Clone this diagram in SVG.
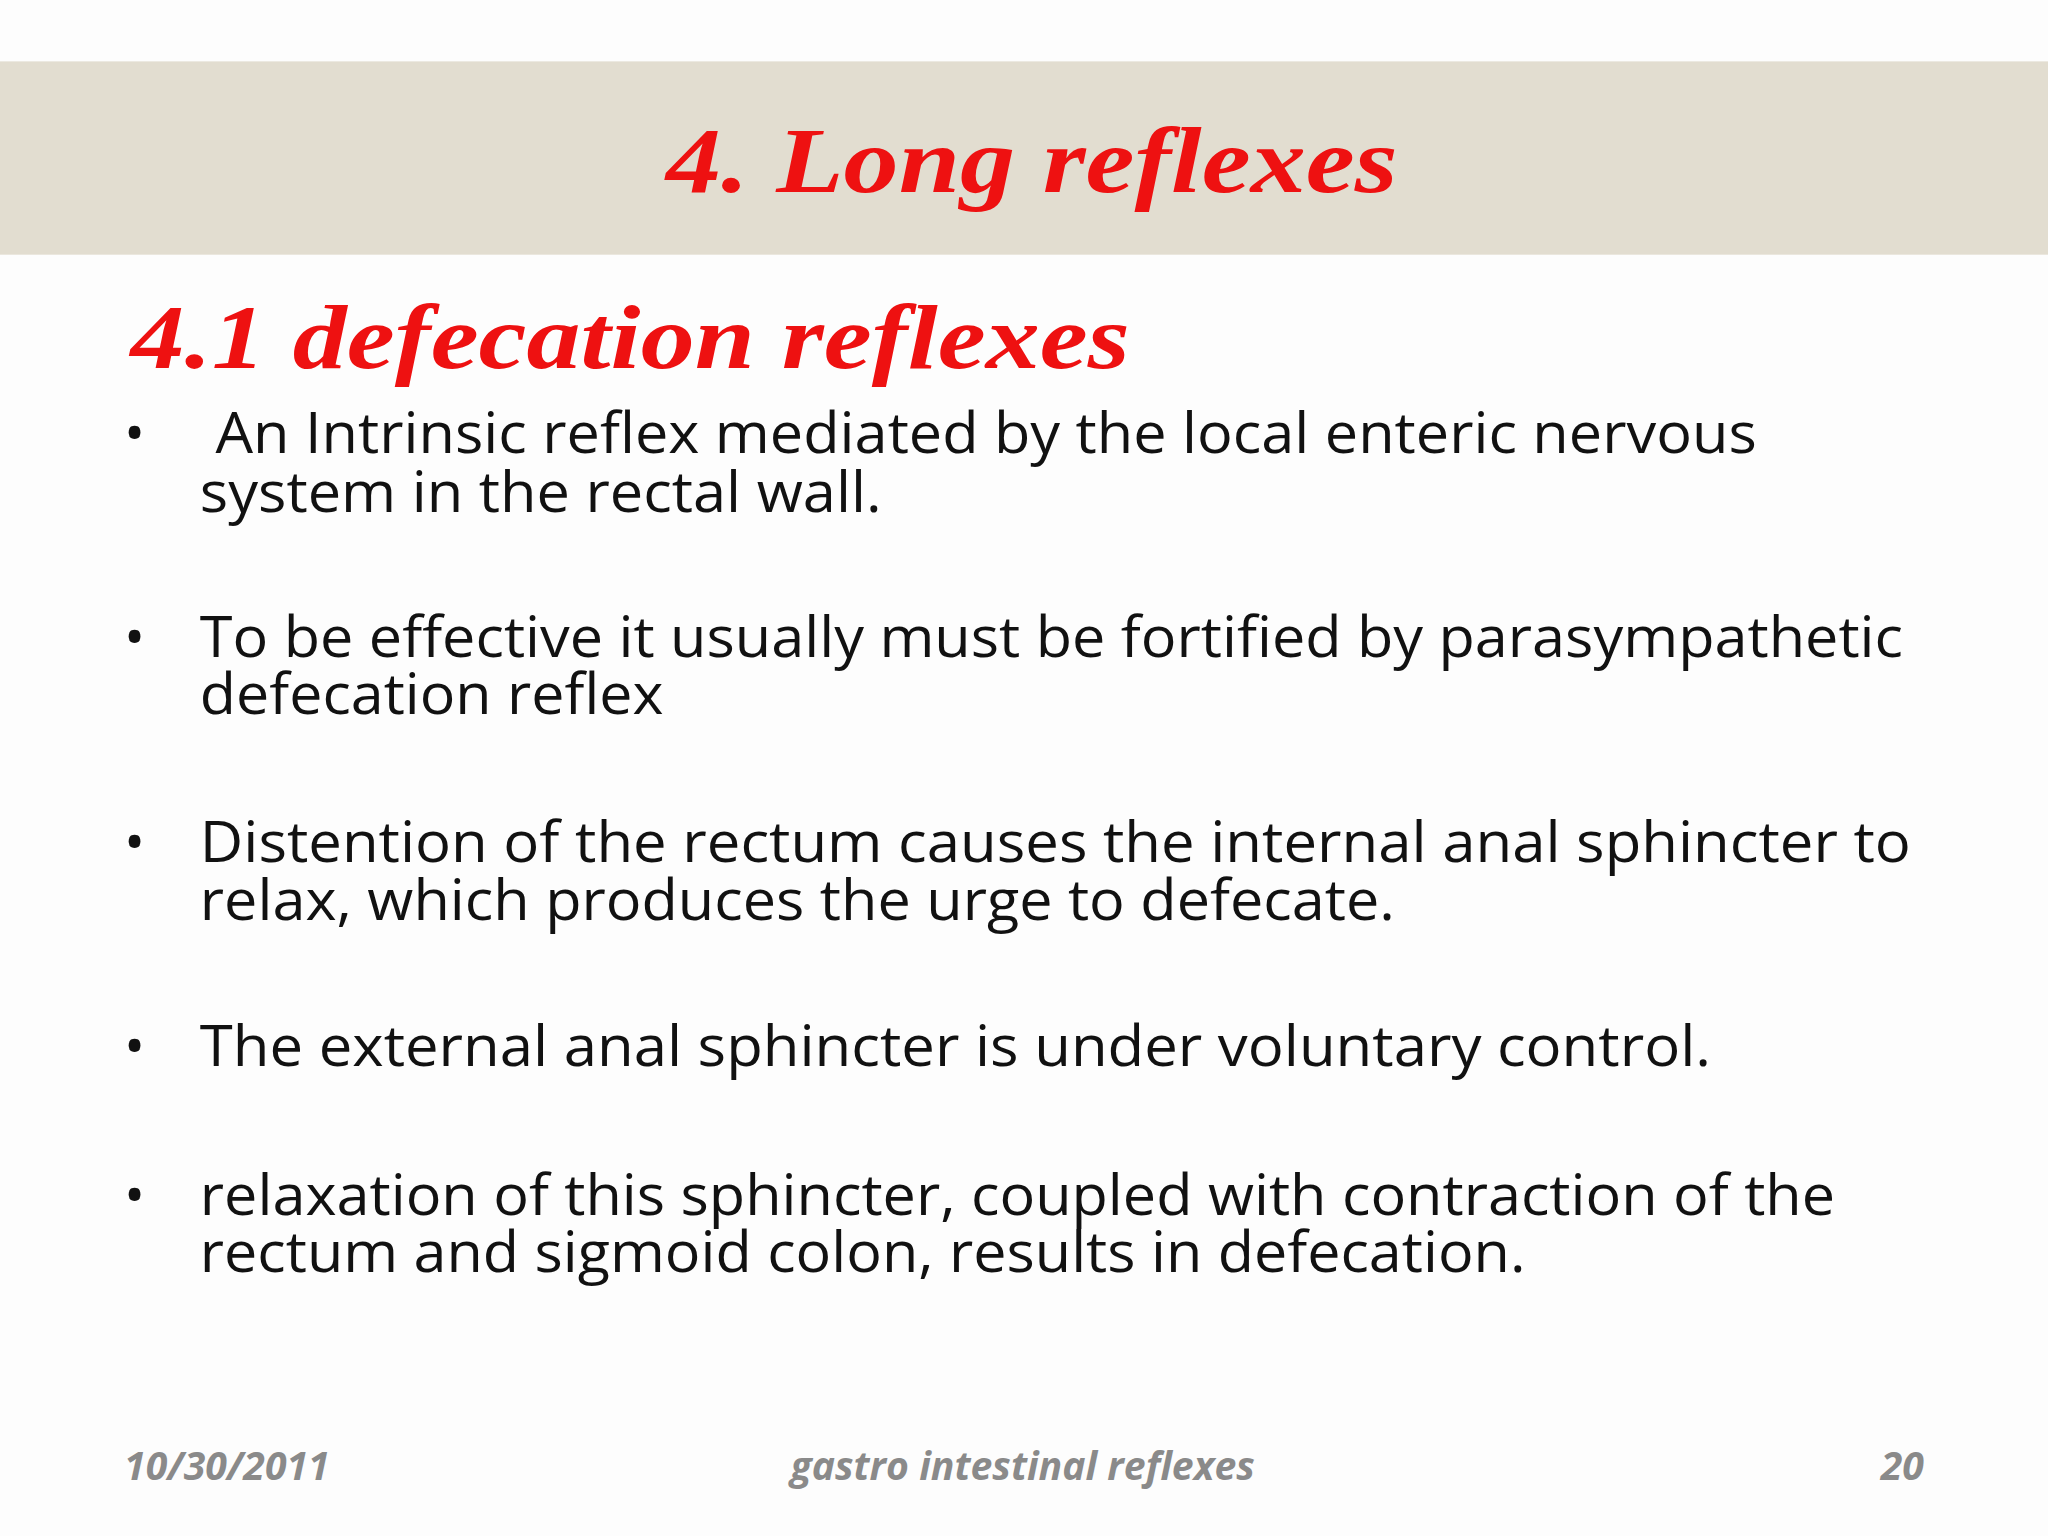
<svg xmlns="http://www.w3.org/2000/svg" width="2048" height="1536" viewBox="0 0 2048 1536">
<style>
.t{font-family:"Liberation Serif",serif;font-style:italic;font-weight:bold;fill:#ee1111}
.b{font-family:"Open Sans","Noto Sans",sans-serif;font-size:43px;fill:#111}
.f{font-family:"Open Sans","Noto Sans",sans-serif;font-size:30px;font-weight:bold;font-style:italic;fill:#8a8a8a}
</style>
<rect width="2048" height="1536" fill="#fdfdfd"/>
<g transform="scale(1.30612)">
<g id="banner"><rect x="0" y="47" width="1568" height="148" fill="#e2ddd0"/></g>
<g id="title"><text class="t" x="510" y="147" font-size="72" textLength="560" lengthAdjust="spacingAndGlyphs">4. Long  reflexes</text></g>
<g id="subtitle"><text class="t" x="100" y="282" font-size="70" textLength="765" lengthAdjust="spacingAndGlyphs">4.1 defecation reflexes</text></g>
<g id="bullets">
<text class="b" x="95" y="347">•</text>
<text class="b" x="165" y="347" textLength="1180" lengthAdjust="spacingAndGlyphs">An Intrinsic reflex mediated by the local enteric nervous</text>
<text class="b" x="153" y="392" textLength="522" lengthAdjust="spacingAndGlyphs">system in the rectal wall.</text>
<text class="b" x="95" y="503">•</text>
<text class="b" x="153" y="503" textLength="1304" lengthAdjust="spacingAndGlyphs">To be effective it usually must be fortified by parasympathetic</text>
<text class="b" x="153" y="547" textLength="355" lengthAdjust="spacingAndGlyphs">defecation reflex</text>
<text class="b" x="95" y="660">•</text>
<text class="b" x="153" y="660" textLength="1310" lengthAdjust="spacingAndGlyphs">Distention of the rectum causes the internal anal sphincter  to</text>
<text class="b" x="153" y="704" textLength="915" lengthAdjust="spacingAndGlyphs">relax, which produces the urge to defecate.</text>
<text class="b" x="95" y="816">•</text>
<text class="b" x="153" y="816" textLength="1157" lengthAdjust="spacingAndGlyphs">The external anal sphincter  is under voluntary control.</text>
<text class="b" x="95" y="930">•</text>
<text class="b" x="153" y="930" textLength="1252" lengthAdjust="spacingAndGlyphs">relaxation of this sphincter, coupled with contraction of the</text>
<text class="b" x="153" y="974" textLength="1015" lengthAdjust="spacingAndGlyphs">rectum and sigmoid colon, results in defecation.</text>
</g>
<g id="footer">
<text class="f" x="95" y="1133">10/30/2011</text>
<text class="f" x="783" y="1133" text-anchor="middle">gastro intestinal reflexes</text>
<text class="f" x="1473" y="1133" text-anchor="end">20</text>
</g>
</g>
</svg>
